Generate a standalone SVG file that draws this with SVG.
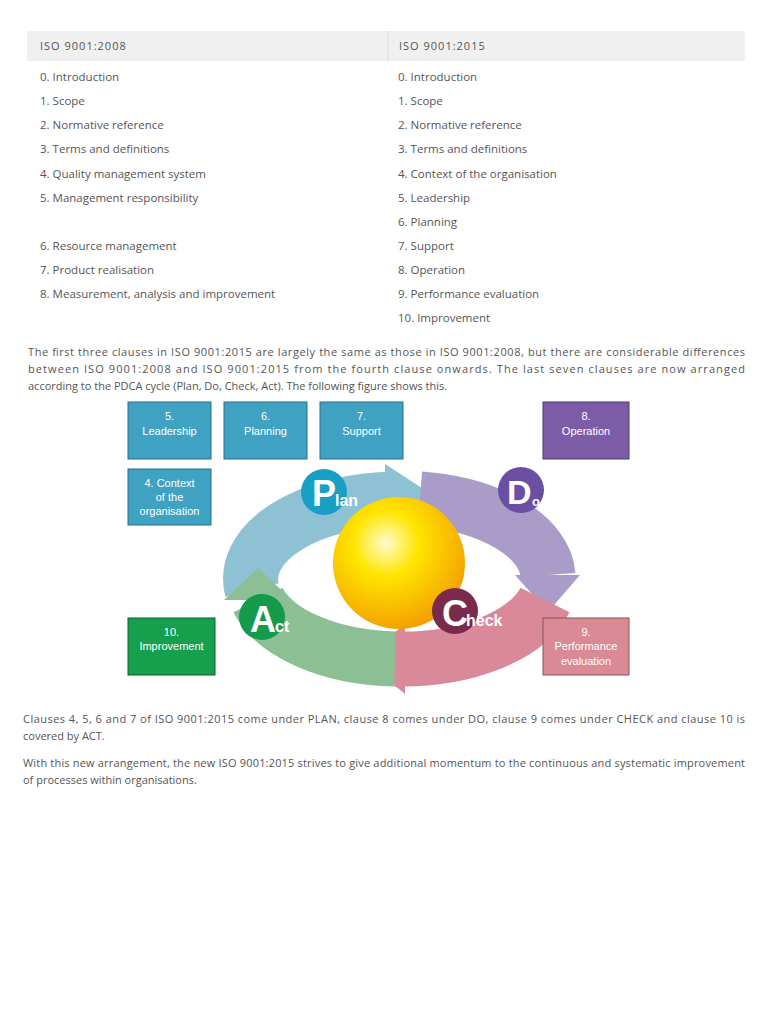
<svg xmlns="http://www.w3.org/2000/svg" width="768" height="1024" viewBox="0 0 768 1024">
<style>
.t{font-family:"Open Sans","Liberation Sans",sans-serif;font-size:11.5px;fill:#555}
.h{font-family:"Open Sans","Liberation Sans",sans-serif;font-size:11px;fill:#555;letter-spacing:1px}
.p{font-family:"Open Sans","Liberation Sans",sans-serif;font-size:11px;fill:#555}
.b{font-family:"Liberation Sans",Arial,sans-serif;font-size:11px;fill:#fff;text-anchor:middle}
.L{font-family:"Liberation Sans",Arial,sans-serif;font-weight:bold;fill:#fff}
</style>
<defs>
<radialGradient id="sun" cx="0.4" cy="0.35" r="0.7">
<stop offset="0" stop-color="#fffbd0"/><stop offset="0.35" stop-color="#ffe600"/><stop offset="1" stop-color="#f39a00"/>
</radialGradient>
</defs>
<rect width="768" height="1024" fill="#fff"/>
<g id="table">
<rect x="27" y="31" width="718" height="30" fill="#f0f0f0"/>
<line x1="388" y1="31" x2="388" y2="61" stroke="#ddd"/>
<text class="h" x="40" y="50">ISO 9001:2008</text>
<text class="h" x="399" y="50">ISO 9001:2015</text>
<text class="t" x="40" y="81">0. Introduction</text>
<text class="t" x="40" y="105">1. Scope</text>
<text class="t" x="40" y="129">2. Normative reference</text>
<text class="t" x="40" y="153">3. Terms and definitions</text>
<text class="t" x="40" y="178">4. Quality management system</text>
<text class="t" x="40" y="202">5. Management responsibility</text>
<text class="t" x="40" y="250">6. Resource management</text>
<text class="t" x="40" y="274">7. Product realisation</text>
<text class="t" x="40" y="298">8. Measurement, analysis and improvement</text>
<text class="t" x="398" y="81">0. Introduction</text>
<text class="t" x="398" y="105">1. Scope</text>
<text class="t" x="398" y="129">2. Normative reference</text>
<text class="t" x="398" y="153">3. Terms and definitions</text>
<text class="t" x="398" y="178">4. Context of the organisation</text>
<text class="t" x="398" y="202">5. Leadership</text>
<text class="t" x="398" y="226">6. Planning</text>
<text class="t" x="398" y="250">7. Support</text>
<text class="t" x="398" y="274">8. Operation</text>
<text class="t" x="398" y="298">9. Performance evaluation</text>
<text class="t" x="398" y="322">10. Improvement</text>
</g>
<g id="intro">
<text class="p" x="28" y="356" textLength="717" lengthAdjust="spacing">The first three clauses in ISO 9001:2015 are largely the same as those in ISO 9001:2008, but there are considerable differences</text>
<text class="p" x="28" y="373" textLength="717" lengthAdjust="spacing">between ISO 9001:2008 and ISO 9001:2015 from the fourth clause onwards. The last seven clauses are now arranged</text>
<text class="p" x="28" y="390">according to the PDCA cycle (Plan, Do, Check, Act). The following figure shows this.</text>
</g>
<g id="cycle">
<path d="M252,590 A148,80 0 0 1 395,499" fill="none" stroke="#8fc1d4" stroke-width="55"/>
<polygon points="385,464 445,503 385,536" fill="#8fc1d4"/>
<path d="M420,499 A148,80 0 0 1 548,575" fill="none" stroke="#a99cc8" stroke-width="55"/>
<polygon points="515,575 580,575 548,612" fill="#a99cc8"/>
<path d="M545,600 A148,80 0 0 1 395,659" fill="none" stroke="#d9899a" stroke-width="55"/>
<polygon points="405,624 362,659 405,694" fill="#d9899a"/>
<path d="M395,659 A148,80 0 0 1 258,600" fill="none" stroke="#8dbf94" stroke-width="55"/>
<polygon points="224,600 292,600 258,568" fill="#8dbf94"/>
<circle cx="399" cy="563" r="66" fill="url(#sun)"/>
<circle cx="324" cy="492" r="23" fill="#17a0c4"/>
<text class="L" x="312" y="506" font-size="36">P</text><text class="L" x="335" y="506" font-size="16">lan</text>
<circle cx="521" cy="490" r="23" fill="#6a4fa2"/>
<text class="L" x="507" y="504" font-size="34">D</text><text class="L" x="532" y="506" font-size="13">o</text>
<circle cx="455" cy="611" r="23" fill="#7a2a4a"/>
<text class="L" x="442" y="626" font-size="36">C</text><text class="L" x="466" y="626" font-size="16">heck</text>
<circle cx="262" cy="617" r="23" fill="#139a4a"/>
<text class="L" x="250" y="632" font-size="36">A</text><text class="L" x="275" y="632" font-size="16">ct</text>
</g>
<g id="box5"><rect x="128" y="402" width="83" height="57" fill="#3fa2c3" stroke="#2a6f85"/><text class="b" x="169.5" y="420">5.</text><text class="b" x="169.5" y="435">Leadership</text></g>
<g id="box6"><rect x="224" y="402" width="83" height="57" fill="#3fa2c3" stroke="#2a6f85"/><text class="b" x="265.5" y="420">6.</text><text class="b" x="265.5" y="435">Planning</text></g>
<g id="box7"><rect x="320" y="402" width="83" height="57" fill="#3fa2c3" stroke="#2a6f85"/><text class="b" x="361.5" y="420">7.</text><text class="b" x="361.5" y="435">Support</text></g>
<g id="box8"><rect x="543" y="402" width="86" height="57" fill="#7c5ca6" stroke="#4e3a6a"/><text class="b" x="586" y="420">8.</text><text class="b" x="586" y="435">Operation</text></g>
<g id="box4"><rect x="128" y="469" width="83" height="56" fill="#3fa2c3" stroke="#2a6f85"/><text class="b" x="169.5" y="487">4. Context</text><text class="b" x="169.5" y="501">of the</text><text class="b" x="169.5" y="515">organisation</text></g>
<g id="box10"><rect x="128" y="618" width="87" height="57" fill="#16a04e" stroke="#0d5e2e"/><text class="b" x="171.5" y="636">10.</text><text class="b" x="171.5" y="650">Improvement</text></g>
<g id="box9"><rect x="543" y="618" width="86" height="57" fill="#d98a94" stroke="#8a5058"/><text class="b" x="586" y="636">9.</text><text class="b" x="586" y="650">Performance</text><text class="b" x="586" y="665">evaluation</text></g>
<g id="outro">
<text class="p" x="23" y="723" textLength="722" lengthAdjust="spacing">Clauses 4, 5, 6 and 7 of ISO 9001:2015 come under PLAN, clause 8 comes under DO, clause 9 comes under CHECK and clause 10 is</text>
<text class="p" x="23" y="740">covered by ACT.</text>
<text class="p" x="23" y="767" textLength="722" lengthAdjust="spacing">With this new arrangement, the new ISO 9001:2015 strives to give additional momentum to the continuous and systematic improvement</text>
<text class="p" x="23" y="784">of processes within organisations.</text>
</g>
</svg>
